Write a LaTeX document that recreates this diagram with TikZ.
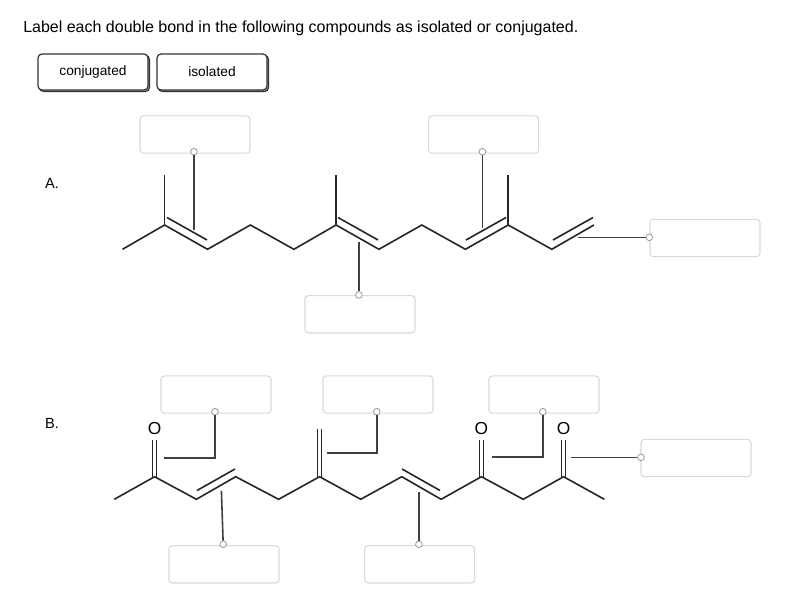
\documentclass[tikz,border=0pt]{standalone}
\usepackage{fontspec}
\setmainfont{Liberation Sans}
\begin{document}
\begin{tikzpicture}[x=0.75pt,y=-0.75pt,
  bond/.style={draw=black!85,line width=1.2pt},
  lead/.style={draw=black!75,line width=1.2pt},
  ansbox/.style={draw=black!15,fill=white,rounded corners=2.5pt,line width=0.8pt,minimum width=82.5pt,minimum height=28pt,inner sep=0pt},
  btn/.style={draw=black!80,fill=white,rounded corners=3pt,line width=0.9pt,minimum width=82.5pt,minimum height=27pt,inner sep=0pt,font=\fontsize{10.3}{12}\selectfont},
  dot/.style={circle,draw=black!40,fill=white,line width=0.6pt,minimum size=5pt,inner sep=0pt},
  lab/.style={font=\fontsize{11}{13}\selectfont,inner sep=0pt}]
\useasboundingbox (0,0) rectangle (785,589);
\fill[white] (0,0) rectangle (785,589);
\node[lab,anchor=west,font=\fontsize{12}{14}\selectfont] (title) at (23,28) {Label each double bond in the following compounds as isolated or conjugated.};
\node[btn,fill=black!30] (b1s) at (94.5,73.5) {};
\node[btn] (b1) at (93,72) {conjugated};
\node[btn,fill=black!30] (b2s) at (213.5,73.5) {};
\node[btn] (b2) at (212,72) {isolated};
\node[lab] (la) at (52,183) {A.};
\node[lab] (lb) at (52,423) {B.};
% ---- Molecule A
\foreach \n/\x/\y in {a1/122.5/249.3,a2/164.6/225,a3/207.5/249.3,a4/250.4/225,a5/293.9/249.3,a6/336.1/225,a7/378.9/249.3,a8/421.8/225,a9/465.4/249.3,a10/508.2/225,a11/551.8/249.3,a12/593.9/225,m1/164.6/175,m2/336.1/175,m3/508.2/175}
  \coordinate (\n) at (\x,\y);
\draw[bond] (a1)--(a2)--(a3)--(a4)--(a5)--(a6)--(a7)--(a8)--(a9)--(a10)--(a11)--(a12);
\draw[bond] (a2)--(m1) (a6)--(m2) (a10)--(m3);
\draw[bond] (167,217.5)--(207,240);
\draw[bond] (338,217.5)--(378,240);
\draw[bond] (466,240)--(506,217.5);
\draw[bond] (553,240)--(593,217.5);
% boxes A
\node[ansbox] (ta1) at (195,134.5) {};
\node[ansbox] (ta2) at (483.6,134.5) {};
\node[ansbox] (ta3) at (360,314.3) {};
\node[ansbox] (ta4) at (705,238) {};
\node[dot] (da1) at (193.9,151.7) {};
\node[dot] (da2) at (482.5,151.7) {};
\node[dot] (da3) at (358.9,295) {};
\node[dot] (da4) at (649.3,237.3) {};
\coordinate (ea1) at (193.9,230);
\coordinate (ea2) at (482.5,228);
\coordinate (ea3) at (358.9,241.7);
\coordinate (ea4) at (577.9,237.3);
\draw[lead] (da1)--(ea1);
\draw[lead] (da2)--(ea2);
\draw[lead] (da3)--(ea3);
\draw[lead] (da4)--(ea4);
% ---- Molecule B
\foreach \n/\x/\y in {b1/114.3/499.3,b2/154.6/476.7,b3/196.4/499.3,b4/235.7/476.7,b5/278.6/499.3,b6/319.6/476.7,b7/360.7/499.3,b8/401.8/476.7,b9/441.1/499.3,b10/481.4/476.7,b11/523.2/499.3,b12/563.6/476.7,b13/604.3/499.3}
  \coordinate (\n) at (\x,\y);
\draw[bond] (b1)--(b2)--(b3)--(b4)--(b5)--(b6)--(b7)--(b8)--(b9)--(b10)--(b11)--(b12)--(b13);
\node[lab,font=\fontsize{13}{15}\selectfont] (o1) at (154.6,429) {O};
\node[lab,font=\fontsize{13}{15}\selectfont] (o2) at (481.4,429) {O};
\node[lab,font=\fontsize{13}{15}\selectfont] (o3) at (563.6,429) {O};
\draw[bond] (152.6,476.7)--(152.6,440) (156.6,476.7)--(156.6,440);
\draw[bond] (479.4,476.7)--(479.4,440) (483.4,476.7)--(483.4,440);
\draw[bond] (561.6,476.7)--(561.6,440) (565.6,476.7)--(565.6,440);
\draw[bond] (317.6,476.7)--(317.6,429.3) (321.6,476.7)--(321.6,429.3);
\draw[bond] (197,490.5)--(235,469);
\draw[bond] (402,469)--(440,490.5);
% boxes B
\node[ansbox] (tb1) at (216,394.5) {};
\node[ansbox] (tb2) at (378,394.5) {};
\node[ansbox] (tb3) at (544,394.5) {};
\node[ansbox] (tb4) at (696,458) {};
\node[ansbox] (tb5) at (224,564.3) {};
\node[ansbox] (tb6) at (419.7,564.3) {};
\node[dot] (db1) at (215,411.7) {};
\node[dot] (db2) at (376.8,411.7) {};
\node[dot] (db3) at (542.9,411.7) {};
\node[dot] (db4) at (641,457.3) {};
\node[dot] (db5) at (223.2,544.3) {};
\node[dot] (db6) at (418.9,544.3) {};
\coordinate (eb1) at (164.3,457.7);
\coordinate (eb2) at (326.8,452.7);
\coordinate (eb3) at (491.8,456.7);
\coordinate (eb4) at (571.4,457.3);
\coordinate (eb5) at (221.4,490.7);
\coordinate (eb6) at (418.9,491.7);
\draw[lead] (db1)--(db1|-eb1)--(eb1);
\draw[lead] (db2)--(db2|-eb2)--(eb2);
\draw[lead] (db3)--(db3|-eb3)--(eb3);
\draw[lead] (db4)--(eb4);
\draw[lead] (db5)--(eb5);
\draw[lead] (db6)--(eb6);
\end{tikzpicture}
\end{document}
